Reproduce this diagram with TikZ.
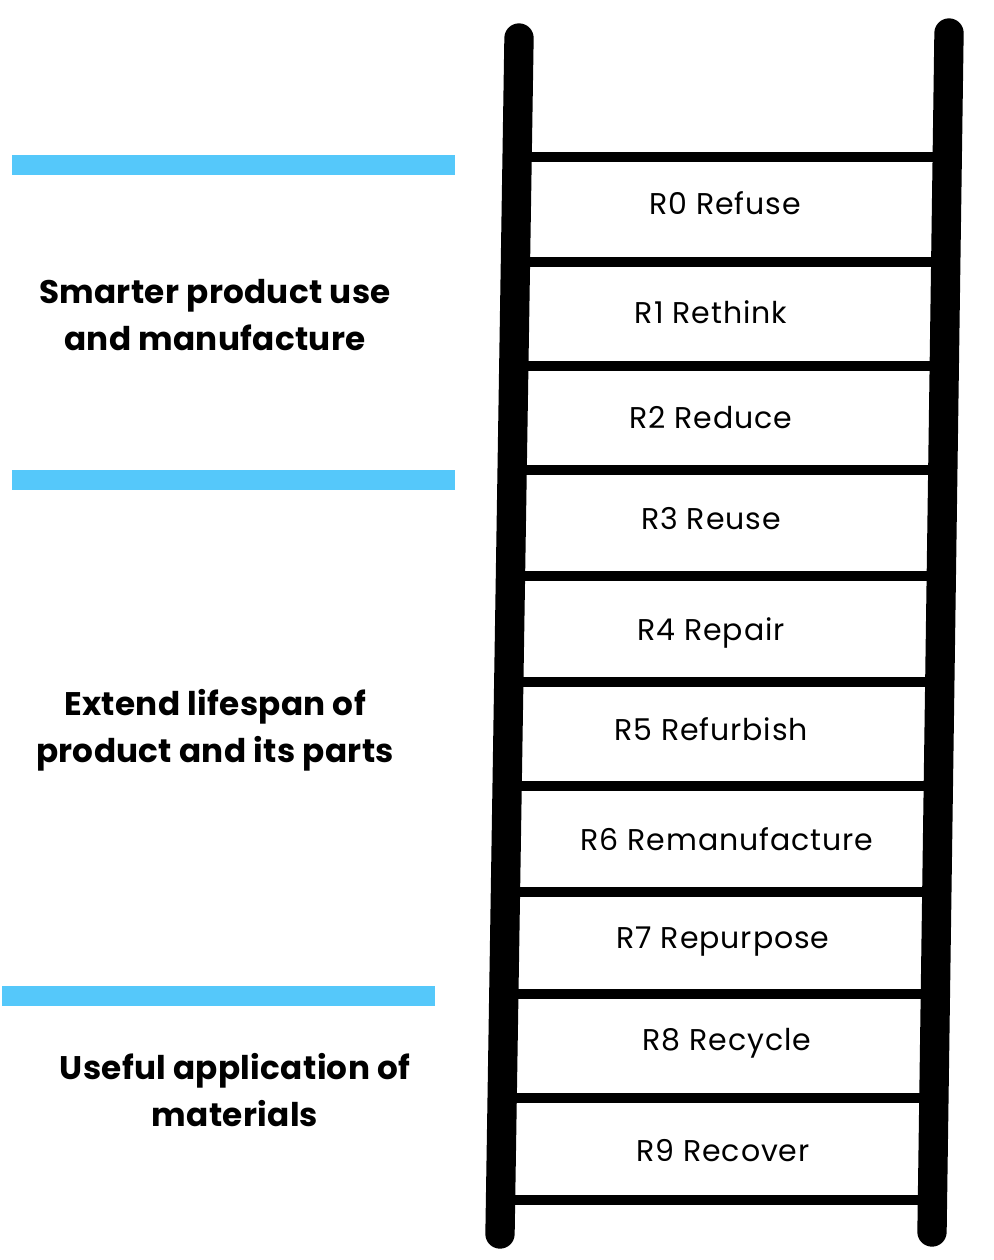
\documentclass[tikz,border=0pt]{standalone}
\usepackage{fontspec}
\setmainfont{Poppins}[LetterSpace=3]
\newfontfamily\boldp{Poppins}[UprightFont=* Bold,LetterSpace=1]
\definecolor{skyb}{HTML}{55C8FA}
\begin{document}
\begin{tikzpicture}[x=0.75pt,y=-0.75pt,
  rail/.style={line width=22pt,line cap=round},
  rung/.style={line width=7.5pt},
  band/.style={skyb,line width=15pt},
  rlabel/.style={font=\fontsize{22.5}{26}\selectfont},
  glabel/.style={font=\boldp\fontsize{24.5}{35}\selectfont,align=center}]
\useasboundingbox (0,0) rectangle (994,1260);
\foreach \y in {157,262,366,470,576,682,786,892,994,1098,1200}
  \draw[rung] (505,\y) -- (945,\y);
\coordinate (lt) at (519,38); \coordinate (lb) at (500,1234);
\coordinate (rt) at (949,33); \coordinate (rb) at (932,1232);
\draw[rail] (lt) -- (lb);
\draw[rail] (rt) -- (rb);
\draw[band] (12,165) -- (455,165);
\draw[band] (12,480) -- (455,480);
\draw[band] (2,996) -- (435,996);
\node[rlabel] (r0) at (725,203) {R0 Refuse};
\node[rlabel] (r1) at (711,312) {R1 Rethink};
\node[rlabel] (r2) at (711,418) {R2 Reduce};
\node[rlabel] (r3) at (711,519) {R3 Reuse};
\node[rlabel] (r4) at (711,633) {R4 Repair};
\node[rlabel] (r5) at (711,729) {R5 Refurbish};
\node[rlabel] (r6) at (727,839) {R6 Remanufacture};
\node[rlabel] (r7) at (723,942) {R7 Repurpose};
\node[rlabel] (r8) at (727,1043) {R8 Recycle};
\node[rlabel] (r9) at (723,1151) {R9 Recover};
\node[glabel] (g1) at (215,315) {Smarter product use\\and manufacture};
\node[glabel] (g2) at (215,730) {Extend lifespan of\\product and its parts};
\node[glabel] (g3) at (235,1090) {Useful application of\\materials};
\end{tikzpicture}
\end{document}
